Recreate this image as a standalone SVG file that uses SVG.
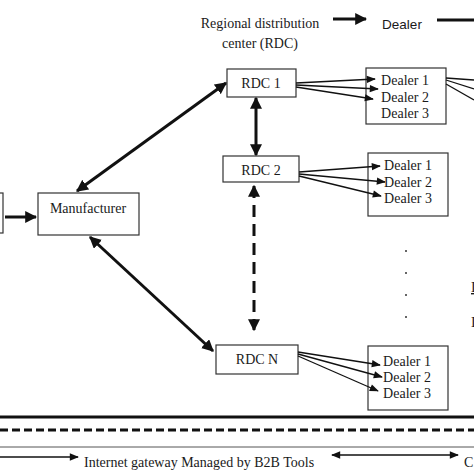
<svg xmlns="http://www.w3.org/2000/svg" width="474" height="474" viewBox="0 0 474 474">
<style>
.t{font-family:"Liberation Serif","Times New Roman",serif;font-size:14px;fill:#1a1a1a}
.s{font-family:"Liberation Sans",Arial,sans-serif;font-size:13.5px;fill:#1a1a1a}
.box{fill:#fff;stroke:#333;stroke-width:1.2}
.thick{stroke:#111;stroke-width:3;fill:none}
.thin{stroke:#111;stroke-width:1.3;fill:none}
</style>
<defs>
<marker id="ah" viewBox="0 0 10 10" refX="9" refY="5" markerWidth="4" markerHeight="4" orient="auto-start-reverse"><path d="M0,0 L10,5 L0,10 Z" fill="#111"/></marker>
<marker id="as" viewBox="0 0 10 10" refX="9" refY="5" markerWidth="8" markerHeight="7" orient="auto-start-reverse"><path d="M0,1 L10,5 L0,9 Z" fill="#111"/></marker>
</defs>
<rect width="474" height="474" fill="#fff"/>

<g id="legend">
<text class="t" x="260" y="28" text-anchor="middle">Regional distribution</text>
<text class="t" x="260" y="48" text-anchor="middle">center (RDC)</text>
<line class="thick" x1="333" y1="19" x2="366" y2="19" marker-end="url(#ah)"/>
<text class="s" x="402" y="29" text-anchor="middle">Dealer</text>
<line class="thick" x1="437" y1="20" x2="474" y2="20"/>
</g>

<g id="left-node">
<rect class="box" x="-10" y="193" width="13" height="40"/>
</g>
<g id="manufacturer">
<rect class="box" x="38" y="193" width="101" height="42"/>
<text class="t" x="88" y="213" text-anchor="middle">Manufacturer</text>
</g>
<g id="rdc1">
<rect class="box" x="227" y="69" width="69" height="28"/>
<text class="t" x="261" y="88" text-anchor="middle">RDC 1</text>
</g>
<g id="rdc2">
<rect class="box" x="223" y="156" width="76" height="26"/>
<text class="t" x="261" y="175" text-anchor="middle">RDC 2</text>
</g>
<g id="rdcn">
<rect class="box" x="216" y="345" width="82" height="29"/>
<text class="t" x="257" y="364" text-anchor="middle">RDC N</text>
</g>
<g id="dealers1">
<rect class="box" x="366" y="68" width="80" height="56"/>
<text class="t" x="405" y="85" text-anchor="middle">Dealer 1</text>
<text class="t" x="405" y="102" text-anchor="middle">Dealer 2</text>
<text class="t" x="405" y="118" text-anchor="middle">Dealer 3</text>
</g>
<g id="dealers2">
<rect class="box" x="368" y="153" width="80" height="63"/>
<text class="t" x="408" y="170" text-anchor="middle">Dealer 1</text>
<text class="t" x="408" y="187" text-anchor="middle">Dealer 2</text>
<text class="t" x="408" y="203" text-anchor="middle">Dealer 3</text>
</g>
<g id="dealersn">
<rect class="box" x="368" y="346" width="80" height="64"/>
<text class="t" x="407" y="366" text-anchor="middle">Dealer 1</text>
<text class="t" x="407" y="382" text-anchor="middle">Dealer 2</text>
<text class="t" x="407" y="398" text-anchor="middle">Dealer 3</text>
</g>

<g id="connectors">
<line class="thick" x1="5" y1="217" x2="36" y2="217" marker-end="url(#ah)"/>
<line class="thick" x1="77" y1="191" x2="226" y2="83" marker-start="url(#ah)" marker-end="url(#ah)"/>
<line class="thick" x1="90" y1="237" x2="213" y2="351" marker-start="url(#ah)" marker-end="url(#ah)"/>
<line class="thick" x1="256" y1="98" x2="256" y2="155" marker-start="url(#ah)" marker-end="url(#ah)"/>
<line class="thick" x1="254" y1="186" x2="254" y2="330" stroke-dasharray="12,7" marker-start="url(#ah)" marker-end="url(#ah)"/>
<line class="thin" x1="296" y1="83" x2="375" y2="79" marker-end="url(#as)"/>
<line class="thin" x1="296" y1="85" x2="378" y2="89" marker-end="url(#as)"/>
<line class="thin" x1="296" y1="87" x2="373" y2="99" marker-end="url(#as)"/>
<line class="thin" x1="446" y1="78" x2="474" y2="80"/>
<line class="thin" x1="446" y1="80" x2="474" y2="89"/>
<line class="thin" x1="446" y1="84" x2="474" y2="100"/>
<line class="thin" x1="299" y1="172" x2="380" y2="166" marker-end="url(#as)"/>
<line class="thin" x1="299" y1="174" x2="385" y2="182" marker-end="url(#as)"/>
<line class="thin" x1="299" y1="176" x2="381" y2="196" marker-end="url(#as)"/>
<line class="thin" x1="298" y1="352" x2="380" y2="365" marker-end="url(#as)"/>
<line class="thin" x1="298" y1="354" x2="382" y2="377" marker-end="url(#as)"/>
<line class="thin" x1="298" y1="356" x2="378" y2="391" marker-end="url(#as)"/>
</g>

<g id="dots" fill="#333">
<circle cx="406" cy="251" r="1"/>
<circle cx="406" cy="273" r="1"/>
<circle cx="406" cy="295" r="1"/>
<circle cx="406" cy="317" r="1"/>
</g>

<g id="edge-fragments">
<text class="t" x="471" y="292" text-decoration="underline">I</text>
<text class="t" x="471" y="327">I</text>
</g>

<g id="bottom">
<line x1="0" y1="417" x2="474" y2="417" stroke="#111" stroke-width="3"/>
<line x1="0" y1="430" x2="474" y2="430" stroke="#111" stroke-width="3" stroke-dasharray="8,4"/>
<line x1="0" y1="447" x2="474" y2="447" stroke="#555" stroke-width="1"/>
<line class="thin" x1="0" y1="457" x2="78" y2="457" marker-end="url(#as)"/>
<text class="t" x="84" y="467">Internet gateway Managed by B2B Tools</text>
<line class="thin" x1="332" y1="455" x2="458" y2="455" marker-start="url(#as)" marker-end="url(#as)"/>
<text class="t" x="464" y="467">C</text>
</g>
</svg>
